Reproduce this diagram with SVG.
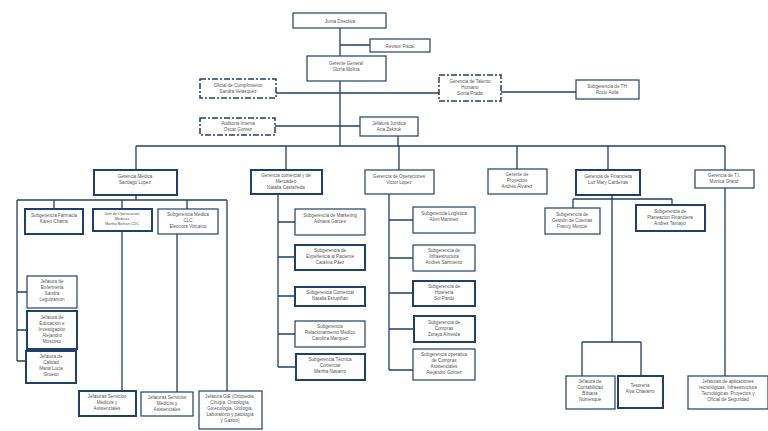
<svg xmlns="http://www.w3.org/2000/svg" width="768" height="431" viewBox="0 0 768 431">
<style>
.b{fill:#fff;stroke:#1f4068;stroke-width:1.2}
.k{fill:#fff;stroke:#1f4068;stroke-width:2}
.d{fill:#fff;stroke:#1f4068;stroke-width:1.5;stroke-dasharray:6,2,2,2}
.c{fill:none;stroke:#1f4068;stroke-width:1.3}
text{font-family:"Liberation Sans",Arial,sans-serif;font-size:4.6px;fill:#555;text-anchor:middle}
</style>
<rect width="768" height="431" fill="#fff"/>
<g id="connectors">
<path class="c" d="M340 28V146M340 45H370M276 93H439M501 92H576M275 126H360M398 136V146M136 146H725M136 146V170M286 146V170M399 146V170M517 146V169M608 146V170M725 146V170"/>
<path class="c" d="M136 195V200M17 200H227M54 200V209M122 200V209M187 200V209M17 200V361M17 292H27M17 330H27M17 361H26M122 231V391M177 234V392M227 200V391"/>
<path class="c" d="M278 194V367M278 222H295M278 257H295M278 296H295M278 334H295M278 367H295"/>
<path class="c" d="M389 194V370M389 220H413M389 258H413M389 293H413M389 329H413M389 370H413"/>
<path class="c" d="M612 195V342M573 199H672M573 199V208M672 199V205M582 342H641M582 342V376M641 342V376M725 188V376"/>
</g>
<g id="junta"><rect class="b" x="293" y="13" width="93" height="15"/><text x="340" y="22.5">Junta Directiva</text></g>
<g id="revisor"><rect class="b" x="370" y="39" width="60" height="13"/><text x="400" y="47.5">Revisor Fiscal</text></g>
<g id="gerente"><rect class="b" x="307" y="56" width="79" height="25"/><text x="346" y="65">Gerente General</text><text x="346" y="71">Gloria Molina</text></g>
<g id="oficial"><rect class="d" x="200" y="79" width="76" height="19"/><text x="238" y="87">Oficial de Cumplimiento</text><text x="238" y="93">Sandra Velasquez</text></g>
<g id="talento"><rect class="d" x="439" y="75" width="62" height="26"/><text x="470" y="83">Gerencia de Talento</text><text x="470" y="89">Humano</text><text x="470" y="95">Sonia Prada</text></g>
<g id="subth"><rect class="b" x="576" y="80" width="63" height="19"/><text x="607" y="88">Subgerencia de TH</text><text x="607" y="94">Rocio Avila</text></g>
<g id="auditoria"><rect class="d" x="200" y="118" width="75" height="17"/><text x="238" y="125">Auditoria Interna</text><text x="238" y="131">Oscar Gomez</text></g>
<g id="juridica"><rect class="b" x="360" y="117" width="58" height="19"/><text x="389" y="125">Jefatura Juridica</text><text x="389" y="131">Ana Zakzuk</text></g>
<g id="medica"><rect class="k" x="94" y="170" width="83" height="25"/><text x="135" y="178">Gerencia Médica</text><text x="135" y="184">Santiago Lopez</text></g>
<g id="comercial"><rect class="k" x="251" y="170" width="71" height="24"/><text x="286" y="177">Gerencia comercial y de</text><text x="286" y="183">Mercadeo</text><text x="286" y="189">Natalia Castañeda</text></g>
<g id="operaciones"><rect class="b" x="365" y="170" width="69" height="24"/><text x="399" y="178">Gerencia de Operaciones</text><text x="399" y="184">Victor Lopez</text></g>
<g id="proyectos"><rect class="b" x="488" y="169" width="59" height="25"/><text x="517" y="176">Gerente de</text><text x="517" y="182">Proyectos</text><text x="517" y="188">Andrés Álvarez</text></g>
<g id="financiera"><rect class="k" x="576" y="170" width="64" height="25"/><text x="608" y="178">Gerencia de Financiera</text><text x="608" y="184">Luz Mary Cardenas</text></g>
<g id="ti"><rect class="b" x="695" y="170" width="59" height="18"/><text x="724" y="177">Gerencia de T.I.</text><text x="724" y="183">Monica Grand</text></g>
<g id="farmacia"><rect class="k" x="25" y="209" width="58" height="25"/><text x="54" y="217">Subgerencia Farmacia</text><text x="54" y="223">Karen Charris</text></g>
<g id="jefeop"><rect class="k" x="93" y="209" width="59" height="22"/><text x="122" y="215" style="font-size:3.8px">Jefe de Operaciones</text><text x="122" y="220" style="font-size:3.8px">Medicas</text><text x="122" y="225" style="font-size:3.8px">Martha Beltran CDC</text></g>
<g id="clc"><rect class="b" x="158" y="209" width="60" height="25"/><text x="188" y="216">Subgerencia Médica</text><text x="188" y="222">CLC</text><text x="188" y="228">Eleonora Vizcaíno</text></g>
<g id="enfermeria"><rect class="b" x="27" y="276" width="50" height="32"/><text x="52" y="283">Jefatura de</text><text x="52" y="289">Enfermeria</text><text x="52" y="295">Sandra</text><text x="52" y="301">Leguizamon</text></g>
<g id="educacion"><rect class="k" x="27" y="311" width="50" height="38"/><text x="52" y="319">Jefatura de</text><text x="52" y="325">Educación e</text><text x="52" y="331">Investigación</text><text x="52" y="337">Alejandro</text><text x="52" y="343">Moscoso</text></g>
<g id="calidad"><rect class="k" x="26" y="351" width="50" height="32"/><text x="51" y="358">Jefatura de</text><text x="51" y="364">Calidad</text><text x="51" y="370">Maria Lucia</text><text x="51" y="376">Grueso</text></g>
<g id="servicios1"><rect class="k" x="79" y="391" width="57" height="25"/><text x="107" y="398">Jefaturas Servicios</text><text x="107" y="404">Médicos y</text><text x="107" y="410">Asistenciales</text></g>
<g id="servicios2"><rect class="b" x="141" y="392" width="52" height="24"/><text x="167" y="399">Jefaturas Servicios</text><text x="167" y="405">Médicos y</text><text x="167" y="411">Asistenciales</text></g>
<g id="gie"><rect class="b" x="199" y="391" width="63" height="38"/><text x="230" y="398">Jefatura GiE (Ortopedia,</text><text x="230" y="404">Cirugía, Oncología,</text><text x="230" y="410">Ginecología, Urología,</text><text x="230" y="416">Laboratorio y patología</text><text x="230" y="422">y Gastro)</text></g>
<g id="marketing"><rect class="b" x="295" y="209" width="70" height="26"/><text x="330" y="217">Subgerencia de Marketing</text><text x="330" y="223">Adriana Garces</text></g>
<g id="experiencia"><rect class="k" x="295" y="245" width="70" height="25"/><text x="330" y="252">Subgerencia de</text><text x="330" y="258">Experiencia al Paciente</text><text x="330" y="264">Catalina Páez</text></g>
<g id="scomercial"><rect class="k" x="295" y="287" width="70" height="19"/><text x="330" y="294">Subgerencia Comercial</text><text x="330" y="300">Natalia Estupiñan</text></g>
<g id="relacionamiento"><rect class="b" x="295" y="321" width="70" height="26"/><text x="330" y="328">Subgerencia</text><text x="330" y="334">Relacionamiento Médico</text><text x="330" y="340">Carolina Marquez</text></g>
<g id="tecnica"><rect class="k" x="296" y="354" width="69" height="26"/><text x="330" y="361">Subgerencia Técnica</text><text x="330" y="367">Comercial</text><text x="330" y="373">Martha Navarro</text></g>
<g id="logistica"><rect class="b" x="413" y="207" width="62" height="26"/><text x="444" y="215">Subgerencia Logística</text><text x="444" y="221">Alvni Martinez</text></g>
<g id="infraestructura"><rect class="b" x="413" y="245" width="62" height="26"/><text x="444" y="252">Subgerencia de</text><text x="444" y="258">Infraestructura</text><text x="444" y="264">Andres Sarmiento</text></g>
<g id="hoteleria"><rect class="k" x="413" y="281" width="62" height="25"/><text x="444" y="288">Subgerencia de</text><text x="444" y="294">Hotelería</text><text x="444" y="300">Sol Pardo</text></g>
<g id="compras"><rect class="k" x="414" y="316" width="61" height="26"/><text x="444" y="324">Subgerencia de</text><text x="444" y="330">Compras</text><text x="444" y="336">Zoraya Almeida</text></g>
<g id="operativa"><rect class="b" x="413" y="349" width="62" height="31"/><text x="444" y="356">Subgerencia operativa</text><text x="444" y="362">de Compras</text><text x="444" y="368">Asistenciales</text><text x="444" y="374">Alejandro Gomez</text></g>
<g id="cuentas"><rect class="b" x="545" y="208" width="55" height="26"/><text x="572" y="216">Subgerencia de</text><text x="572" y="222">Gestión de Cuentas</text><text x="572" y="228">Francy Muncie</text></g>
<g id="planeacion"><rect class="k" x="636" y="205" width="69" height="26"/><text x="670" y="213">Subgerencia de</text><text x="670" y="219">Planeación Financiera</text><text x="670" y="225">Andres Tamayo</text></g>
<g id="contabilidad"><rect class="b" x="566" y="376" width="49" height="33"/><text x="590" y="383">Jefatura de</text><text x="590" y="389">Contabilidad</text><text x="590" y="395">Bibiana</text><text x="590" y="401">Nomesque</text></g>
<g id="tesoreria"><rect class="k" x="618" y="376" width="45" height="32"/><text x="640" y="387">Tesorería</text><text x="640" y="393">Alva Chavarro</text></g>
<g id="aplicaciones"><rect class="b" x="688" y="376" width="80" height="33"/><text x="728" y="383">Jefaturas de aplicaciones</text><text x="728" y="389">tecnológicas, Infraestructura</text><text x="728" y="395">Tecnológicas, Proyectos y</text><text x="728" y="401">Oficial de Seguridad</text></g>
</svg>
